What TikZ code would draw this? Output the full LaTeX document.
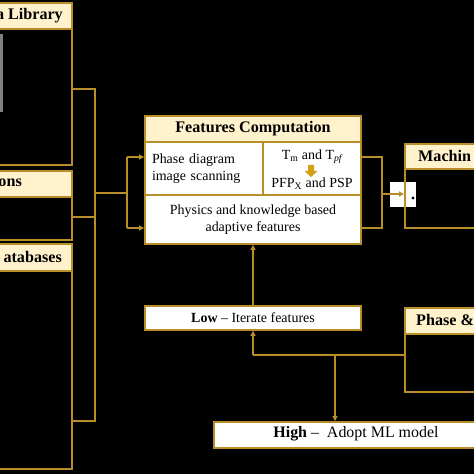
\documentclass[tikz,border=0pt]{standalone}
\usepackage{fontspec}
\setmainfont{Liberation Serif}
\usetikzlibrary{arrows.meta}
\definecolor{gold}{RGB}{184,142,40}
\definecolor{cream}{RGB}{255,242,204}
\definecolor{darrow}{RGB}{214,160,20}
\begin{document}
\begin{tikzpicture}[x=1bp,y=-1bp,
  hdr/.style={draw=gold, fill=cream, line width=1.8bp, inner sep=0pt, anchor=north west},
  body/.style={draw=gold, line width=1.8bp, inner sep=0pt, anchor=north west},
  cell/.style={draw=gold, fill=white, line width=1.8bp, inner sep=0pt},
  hfont/.style={font=\fontsize{16.2}{19}\selectfont\bfseries},
  tfont/.style={font=\fontsize{14}{17.5}\selectfont},
  conn/.style={draw=gold, line width=1.8bp},
  arr/.style={conn, -{Triangle[length=5bp,width=5bp]}}]
\useasboundingbox (0,0) rectangle (474,474);
\fill[black] (0,0) rectangle (474,474);
\clip (0,0) rectangle (474,474);
% grey strip
\fill[gray] (0,34) rectangle (2.5,112);
% left boxes
\node[body, minimum width=76bp, minimum height=162bp] (b1) at (-5,2) {};
\node[hdr, minimum width=76bp, minimum height=26bp] (h1) at (-5,2) {};
\node[hfont, anchor=east, inner sep=0pt] (t1) at (63,15.5) {a Library};
\node[body, minimum width=76bp, minimum height=69bp] (b2) at (-5,170) {};
\node[hdr, minimum width=76bp, minimum height=26bp] (h2) at (-5,170) {};
\node[hfont, anchor=east, inner sep=0pt] (t2) at (22,183) {ons};
\node[body, minimum width=76bp, minimum height=225bp] (b3) at (-5,243) {};
\node[hdr, minimum width=76bp, minimum height=27bp] (h3) at (-5,243) {};
\node[hfont, anchor=east, inner sep=0pt] (t3) at (62,256.5) {atabases};
% features computation
\node[hdr, minimum width=216bp, minimum height=26bp, hfont, anchor=center] (fc) at (253,129) {Features Computation};
\node[cell, minimum width=118bp, minimum height=53bp, tfont, text width=104bp, align=left] (pc) at (204,168.5) {Phase diagram\\image scanning};
\node[cell, minimum width=98bp, minimum height=53bp] (tc) at (312,168.5) {};
\node[cell, minimum width=216bp, minimum height=49bp, tfont, align=center] (lc) at (253,219.5) {Physics and knowledge based\\adaptive features};
\node[tfont, inner sep=0pt] (tm) at (312,157) {T\textsubscript{m} and T\textsubscript{\itshape pf}};
\node[tfont, inner sep=0pt] (pf) at (312,183.5) {PFP\textsubscript{X} and PSP};
\fill[darrow] (308,165) -- (314,165) -- (314,171) -- (317.5,171) -- (311,177) -- (304.5,171) -- (308,171) -- cycle;
% left bracket
\coordinate (l1) at (95,89);
\coordinate (l2) at (95,217);
\coordinate (l3) at (95,421);
\coordinate (lm) at (95,193);
\coordinate (j) at (127,193);
\coordinate (ja) at (127,157);
\coordinate (jb) at (127,228);
\draw[conn] (b1.east |- l1) -- (l1) -- (l3) -- (b3.east |- l3);
\draw[conn] (b2.east |- l2) -- (l2);
\draw[conn] (lm) -- (j);
\draw[conn] (ja) -- (jb);
\draw[arr] (ja) -- (pc.west |- ja);
\draw[arr] (jb) -- (lc.west |- jb);
% white square artefact
\fill[white] (390,182) rectangle (416,207);
\fill[black] (413,198) circle (1.6);
% right bracket
\coordinate (r1) at (382,157);
\coordinate (r2) at (382,228);
\coordinate (rm) at (382,194);
\draw[conn] (tc.east |- r1) -- (r1) -- (r2) -- (lc.east |- r2);
% machine box
\node[body, minimum width=80bp, minimum height=84bp] (mb) at (404,143) {};
\node[hdr, minimum width=80bp, minimum height=25bp] (mh) at (404,143) {};
\node[hfont, anchor=west, inner sep=0pt] (mt) at (418,155.5) {Machin};
\draw[arr] (rm) -- (mb.west |- rm);
% phase box
\node[body, minimum width=80bp, minimum height=84bp] (pb) at (404,307) {};
\node[hdr, minimum width=80bp, minimum height=26bp] (ph) at (404,307) {};
\node[hfont, anchor=west, inner sep=0pt] (pt) at (416,320) {Phase \&};
% low / high
\node[cell, minimum width=216bp, minimum height=24bp, tfont] (low) at (253,318) {\textbf{Low} -- Iterate features};
\node[cell, minimum width=270bp, minimum height=26bp, anchor=north west] (high) at (213,421) {};
\node[font=\fontsize{16}{19}\selectfont, inner sep=0pt] (ht) at (356,434) {\textbf{High} --\ \ Adopt ML model};
\coordinate (pj) at (253,355);
\coordinate (pk) at (335,355);
\draw[arr] (low.north) -- (lc.south);
\draw[conn] (pb.west |- pj) -- (pj);
\draw[arr] (pj) -- (low.south);
\draw[arr] (pk) -- (high.north -| pk);
\end{tikzpicture}
\end{document}
